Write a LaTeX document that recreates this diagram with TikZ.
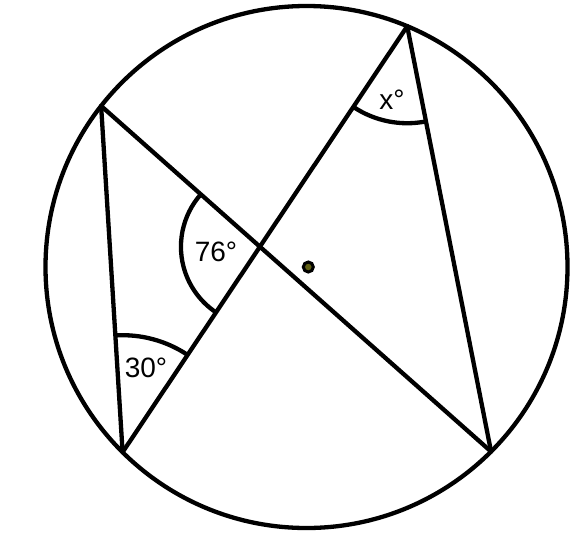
\documentclass[tikz,border=0pt]{standalone}
\usepackage{fontspec}
\setmainfont{Liberation Sans}
\usetikzlibrary{calc,angles}
\definecolor{dotfill}{RGB}{95,95,20}
\tikzset{
  geo/.style={line width=4.3pt, line cap=round, line join=round},
  anglemark/.style={draw, line width=4.3pt},
  lbl/.style={font=\fontsize{28}{28}\selectfont, inner sep=0pt}
}
\begin{document}
\begin{tikzpicture}[x=1pt,y=-1pt]
\useasboundingbox (0,0) rectangle (583,552);
\coordinate (O) at (306.5,267);
\coordinate (A) at ($(O)+(-141.9:261)$);
\coordinate (B) at ($(O)+(-225.2:261)$);
\coordinate (C) at ($(O)+(-67.3:261)$);
\coordinate (D) at ($(O)+(-315.0:261)$);
\coordinate (P) at (308.3,267);
\draw[geo] (O) circle[radius=261];
\draw[geo] (A) -- (B);
\draw[geo] (A) -- (D);
\draw[geo] (B) -- (C);
\draw[geo] (C) -- (D);
\coordinate (E) at (intersection of A--D and B--C);
\pic[anglemark, angle radius=79pt] {angle = A--E--B};
\pic[anglemark, angle radius=97pt] {angle = B--C--D};
\pic[anglemark, angle radius=117pt] {angle = C--B--A};
\node[lbl] (l76) at (216,252) {76°};
\node[lbl] (l30) at (146,368) {30°};
\node[lbl] (lx) at (392,100) {x°};
\draw[line width=3pt, fill=dotfill] (P) circle[radius=5];
\end{tikzpicture}
\end{document}
